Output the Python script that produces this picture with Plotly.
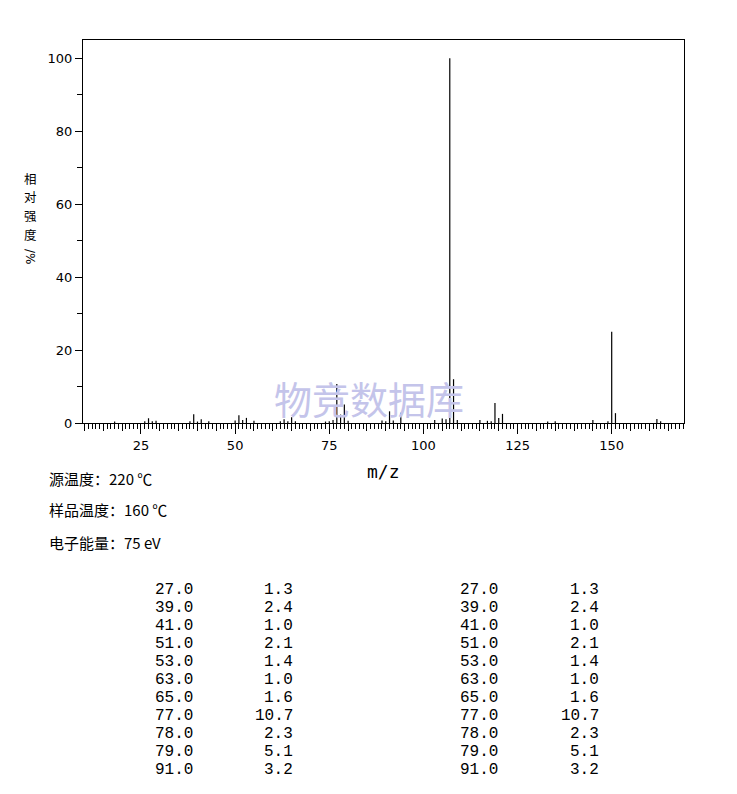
import plotly.graph_objects as go

# ---- spectrum data (m/z, relative intensity %) ----
mz = [18, 26, 27, 28, 29, 38, 39, 40, 41, 43, 50, 51, 52, 53, 55, 62, 63, 64, 65, 66,
      74, 75, 76, 77, 78, 79, 80, 89, 90, 91, 92, 94, 103, 105, 106, 107, 108, 109,
      115, 117, 118, 119, 120, 121, 133, 135, 145, 149, 150, 151, 162, 163]
intensity = [0.4, 0.5, 1.3, 0.5, 0.6, 0.5, 2.4, 0.4, 1.0, 0.5, 0.7, 2.1, 0.8, 1.4, 0.6, 0.5, 1.0, 0.5, 1.6, 0.5,
             0.4, 0.5, 0.8, 10.7, 2.3, 5.1, 0.6, 0.7, 0.5, 3.2, 0.7, 2.8, 0.8, 1.2, 1.0, 100.0, 12.0, 0.8,
             0.8, 0.6, 0.5, 5.5, 1.4, 2.5, 0.4, 0.5, 0.8, 0.5, 25.0, 2.7, 1.1, 0.5]

# ---- conditions text ----
conditions = ["源温度：220 ℃", "样品温度：160 ℃", "电子能量：75 eV"]

# ---- peak table (two identical columns) ----
table_mz = ["27.0", "39.0", "41.0", "51.0", "53.0", "63.0", "65.0", "77.0", "78.0", "79.0", "91.0"]
table_int = ["1.3", "2.4", "1.0", "2.1", "1.4", "1.0", "1.6", "10.7", "2.3", "5.1", "3.2"]

x_ticks = [25, 50, 75, 100, 125, 150]
y_ticks = [0, 20, 40, 60, 80, 100]
y_title_chars = ["相", "对", "强", "度"]

# build stick segments
xs, ys = [], []
for m, v in zip(mz, intensity):
    xs += [m, m, None]
    ys += [0, v, None]

fig = go.Figure()
fig.add_trace(go.Scatter(x=xs, y=ys, mode="lines",
                         line=dict(color="black", width=1.2),
                         hoverinfo="skip", showlegend=False))
# invisible trace for medium tick axis
fig.add_trace(go.Scatter(x=[50], y=[0], xaxis="x2", mode="markers",
                         marker=dict(opacity=0), hoverinfo="skip", showlegend=False))

# screen geometry (page has an 8px body margin)
OFF = 8
SW, SH = 737, 794
L, R, T, B = 83, 684, 40, 423   # plot area in screen pixels


def px(sx):
    return (sx - L) / (R - L)


def py(sy):
    return (B - sy) / (B - T)


xr = [9.6, 169.2]
fig.update_layout(
    width=SW - OFF, height=SH - OFF,
    margin=dict(l=L - OFF, r=SW - R, t=T - OFF, b=SH - B, pad=0),
    paper_bgcolor="white", plot_bgcolor="white",
    showlegend=False,
    xaxis=dict(range=xr, tickmode="array", tickvals=x_ticks,
               ticktext=[str(t) for t in x_ticks],
               ticks="outside", ticklen=10, tickwidth=1, tickcolor="black",
               showline=True, linecolor="black", linewidth=1, mirror=True,
               showgrid=False, zeroline=False,
               tickfont=dict(family="DejaVu Sans", size=13, color="black"),
               minor=dict(dtick=1, tick0=0, ticks="outside", ticklen=5,
                          tickcolor="black", tickwidth=1, showgrid=False)),
    xaxis2=dict(range=xr, overlaying="x", anchor="y", side="bottom",
                tick0=0, dtick=5, ticks="outside", ticklen=7, tickwidth=1,
                tickcolor="black", showticklabels=False, showgrid=False,
                showline=False, zeroline=False),
    yaxis=dict(range=[0, 105], tickmode="array", tickvals=y_ticks,
               ticktext=[str(t) for t in y_ticks],
               ticks="outside", ticklen=7, tickwidth=1, tickcolor="black",
               showline=True, linecolor="black", linewidth=1, mirror=True,
               showgrid=False, zeroline=False,
               tickfont=dict(family="DejaVu Sans", size=13, color="black"),
               minor=dict(dtick=10, tick0=0, ticks="outside", ticklen=5,
                          tickcolor="black", tickwidth=1, showgrid=False)),
)

annotations = []
# watermark
annotations.append(dict(text="物竞数据库", x=px(369), y=py(397),
                        xref="paper", yref="paper", showarrow=False,
                        font=dict(family="Noto Sans CJK SC", size=38, color="rgb(196,196,234)"),
                        xanchor="center", yanchor="middle"))
# x title
annotations.append(dict(text="m/z", x=px(383), y=py(471), xref="paper", yref="paper",
                        showarrow=False, xanchor="center", yanchor="middle",
                        font=dict(family="DejaVu Sans Mono", size=18, color="black")))
# y title (vertical, CJK upright, Latin rotated)
for i, ch in enumerate(y_title_chars):
    annotations.append(dict(text=ch, x=px(30), y=py(178 + 18.7 * i),
                            xref="paper", yref="paper", showarrow=False,
                            xanchor="center", yanchor="middle", borderpad=0,
                            font=dict(family="Noto Sans CJK SC", size=12.5, color="black")))
annotations.append(dict(text="/%", x=px(30), y=py(256), textangle=90,
                        xref="paper", yref="paper", showarrow=False,
                        xanchor="center", yanchor="middle", borderpad=0,
                        font=dict(family="DejaVu Sans", size=12, color="black")))
# conditions
for i, c in enumerate(conditions):
    annotations.append(dict(text=c, x=px(47), y=py(478 + 32 * i),
                            xref="paper", yref="paper", showarrow=False,
                            xanchor="left", yanchor="middle",
                            font=dict(family="Noto Sans CJK SC", size=15, color="black")))
# table
for i, (a, b) in enumerate(zip(table_mz, table_int)):
    yy = py(590 + 18 * i)
    for xr_, txt in [(195, a), (295, b), (500, a), (601, b)]:
        annotations.append(dict(text=txt, x=px(xr_), y=yy, xref="paper", yref="paper",
                                showarrow=False, xanchor="right", yanchor="middle",
                                font=dict(family="Liberation Mono", size=16, color="black")))
fig.update_layout(annotations=annotations)

fig.write_html("out.html")
